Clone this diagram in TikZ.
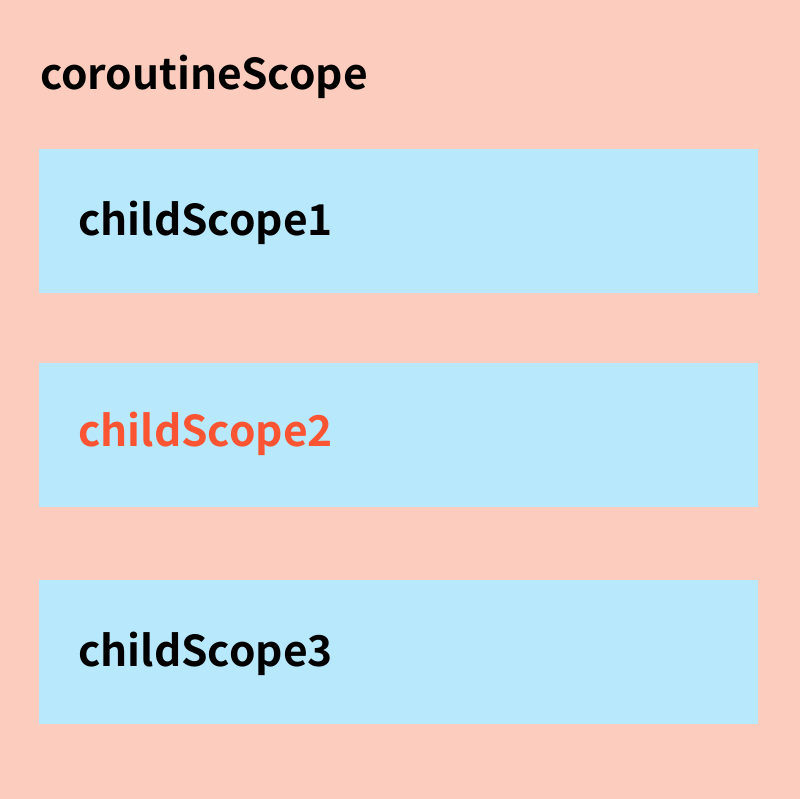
\documentclass[tikz,border=0pt]{standalone}
\usepackage{fontspec}
\setmainfont{Noto Sans CJK SC}[BoldFont={Noto Sans CJK SC Bold}]
\definecolor{bgpink}{RGB}{252,204,190}
\definecolor{boxblue}{RGB}{184,232,252}
\definecolor{alertred}{RGB}{251,84,50}
\tikzset{
  scopebox/.style={fill=boxblue, draw=none, anchor=north west, minimum width=719pt, minimum height=144pt, inner sep=0pt, outer sep=0pt},
  lbl/.style={anchor=base west, inner sep=0pt, font=\fontsize{42.5}{48}\selectfont\bfseries},
}
\begin{document}
\begin{tikzpicture}[x=1pt,y=-1pt]
\fill[bgpink] (0,0) rectangle (800,799);
\useasboundingbox (0,0) rectangle (800,799);
\node[lbl] (outer) at (40,90) {coroutineScope};
\node[scopebox] (b1) at (39,149) {};
\node[scopebox] (b2) at (39,363) {};
\node[scopebox] (b3) at (39,580) {};
\node[lbl] (t1) at (78,236) {childScope1};
\node[lbl, text=alertred] (t2) at (78,446) {childScope2};
\node[lbl] (t3) at (78,666) {childScope3};
\end{tikzpicture}
\end{document}
